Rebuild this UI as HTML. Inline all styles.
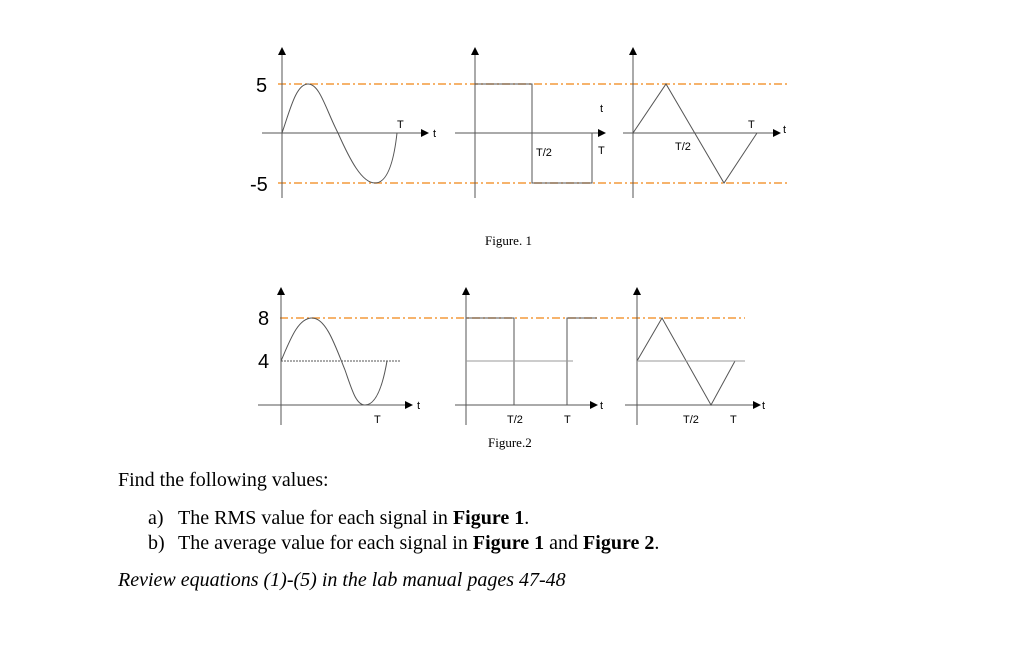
<!DOCTYPE html>
<html><head><meta charset="utf-8"><style>
html,body{margin:0;padding:0;background:#fff;width:1016px;height:648px;overflow:hidden}
svg{position:absolute;left:0;top:0}
.s{font-family:"Liberation Serif",serif;font-size:20px;fill:#000}
.a{font-family:"Liberation Sans",sans-serif;font-size:11px;fill:#000}
</style></head><body>
<svg width="1016" height="648" viewBox="0 0 1016 648">
<defs><marker id="ar" markerWidth="8" markerHeight="8" refX="7" refY="4" orient="auto" markerUnits="userSpaceOnUse"><path d="M0,0 L8,4 L0,8 z" fill="#000"/></marker></defs>
<g stroke="#f39a3c" stroke-width="1.4" stroke-dasharray="8,3,2,3" fill="none">
<line x1="278" y1="84" x2="790" y2="84"/><line x1="278" y1="183" x2="790" y2="183"/>
<line x1="280" y1="318" x2="745" y2="318"/>
</g>
<g stroke="#555" stroke-width="1" fill="none">
<line x1="282" y1="198" x2="282" y2="48" marker-end="url(#ar)"/>
<line x1="262" y1="133" x2="428" y2="133" marker-end="url(#ar)"/>
<path d="M282,133 C290,110 296,84 308,84 C320,84 326,110 338,133 C350,160 362,183 375,183 C388,183 394,160 397,133"/>
<line x1="475" y1="198" x2="475" y2="48" marker-end="url(#ar)"/>
<line x1="455" y1="133" x2="605" y2="133" marker-end="url(#ar)"/>
<path d="M475,84 L532,84 L532,183 L592,183 L592,133"/>
<line x1="633" y1="198" x2="633" y2="48" marker-end="url(#ar)"/>
<line x1="623" y1="133" x2="780" y2="133" marker-end="url(#ar)"/>
<path d="M633,133 L666,84 L724,183 L757,133"/>

<line x1="281" y1="425" x2="281" y2="288" marker-end="url(#ar)"/>
<line x1="258" y1="405" x2="412" y2="405" marker-end="url(#ar)"/>
<path d="M281,361 C290,340 298,318 312,318 C326,318 335,345 345,370 C352,390 356,405 365,405 C375,405 382,390 387,361"/>
<line x1="281" y1="361" x2="400" y2="361" stroke-dasharray="2,1"/>
<line x1="466" y1="425" x2="466" y2="288" marker-end="url(#ar)"/>
<line x1="455" y1="405" x2="597" y2="405" marker-end="url(#ar)"/>
<path d="M466,318 L514,318 L514,405 M567,405 L567,318 L597,318"/>
<line x1="466" y1="361" x2="573" y2="361" stroke="#999"/>
<line x1="637" y1="425" x2="637" y2="288" marker-end="url(#ar)"/>
<line x1="625" y1="405" x2="760" y2="405" marker-end="url(#ar)"/>
<path d="M637,361 L662,318 L711,405 L735,361"/>
<line x1="637" y1="361" x2="745" y2="361" stroke="#999"/>
</g>
<g font-family="Liberation Sans,sans-serif" font-size="20" fill="#000">
<text x="256" y="92">5</text><text x="250" y="191">-5</text>
<text x="258" y="325">8</text><text x="258" y="368">4</text>
</g>
<g class="a">
<text x="433" y="137">t</text><text x="397" y="128">T</text>
<text x="600" y="112">t</text><text x="598" y="154">T</text><text x="536" y="156">T/2</text>
<text x="783" y="133">t</text><text x="748" y="128">T</text><text x="675" y="150">T/2</text>
<text x="417" y="409">t</text><text x="374" y="423">T</text>
<text x="600" y="409">t</text><text x="507" y="423">T/2</text><text x="564" y="423">T</text>
<text x="762" y="409">t</text><text x="683" y="423">T/2</text><text x="730" y="423">T</text>
</g>
<text x="485" y="245" font-family="Liberation Serif,serif" font-size="13">Figure. 1</text>
<text x="488" y="447" font-family="Liberation Serif,serif" font-size="13">Figure.2</text>
<text class="s" x="118" y="486">Find the following values:</text>
<text class="s" x="148" y="524">a)</text><text class="s" x="178" y="524">The RMS value for each signal in <tspan font-weight="bold">Figure 1</tspan>.</text>
<text class="s" x="148" y="549">b)</text><text class="s" x="178" y="549">The average value for each signal in <tspan font-weight="bold">Figure 1</tspan> and <tspan font-weight="bold">Figure 2</tspan>.</text>
<text class="s" x="118" y="586" font-style="italic">Review equations (1)-(5) in the lab manual pages 47-48</text>
</svg>
</body></html>
